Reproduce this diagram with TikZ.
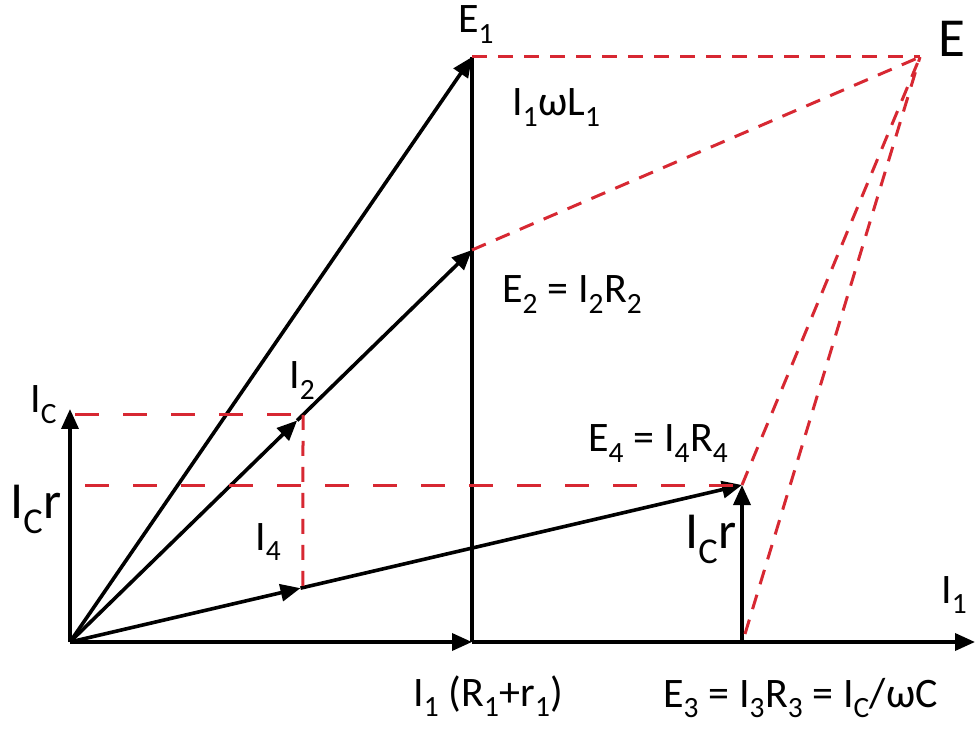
\documentclass[tikz,border=0pt]{standalone}
\usepackage{fontspec}
\setmainfont{Carlito}
\usetikzlibrary{arrows.meta,calc}
\definecolor{dred}{RGB}{215,40,50}
\newcommand\lo[1]{\textsubscript{#1}}
\begin{document}
\begin{tikzpicture}[x=1pt,y=-1pt,
 vec/.style={line width=3.6pt,-{Triangle[length=20pt,width=17pt]}},
 bline/.style={line width=3.6pt},
 rdash/.style={dred,line width=3pt,dash pattern=on 24pt off 24pt},
 rdash2/.style={dred,line width=3pt,dash pattern=on 15pt off 11pt},
 lbl/.style={anchor=base west,inner sep=0pt,font=\fontsize{42}{50}\selectfont},
 big/.style={lbl,font=\fontsize{52}{60}\selectfont}]
\useasboundingbox (0,0) rectangle (978,751);
\coordinate (O) at (70,642);
\coordinate (Xend) at (975,642);
\coordinate (Ic) at (70,409);
\coordinate (E1) at (472,57);
\coordinate (E1f) at (472,642);
\coordinate (E2) at (472,250);
\coordinate (E4) at (742,485);
\coordinate (E3) at (742,642);
\coordinate (E3d) at (745,634);
\coordinate (E) at (920,57);
\coordinate (P2) at ($(O)!0.5796!(E2)$);
\coordinate (P4) at ($(O)!0.3467!(E4)$);
\coordinate (M2) at ($(O)!0.565!(E2)$);
\coordinate (M4) at ($(O)!0.343!(E4)$);
\coordinate (H2) at ($(P2 -| O)+(5,0)$);
\coordinate (H4) at ($(E4 -| O)+(15,0)$);
% black vectors
\draw[vec] (O) -- (E1f);
\draw[vec] (E1f) -- (Xend);
\draw[bline] (E1f) -- (E1);
\draw[vec] (O) -- (E1);
\draw[vec] (O) -- (M2);
\draw[vec] (M2) -- (E2);
\draw[vec] (O) -- (M4);
\draw[vec] (M4) -- (E4);
\draw[vec] (O) -- (Ic);
\draw[vec] (E3) -- (E4);
% red dashed
\draw[rdash] (H2) -- (P2);
\draw[rdash2] (P2) -- (P4);
\draw[rdash] (H4) -- (E4);
\draw[rdash2] (E1) -- (E);
\draw[rdash2] (E2) -- (E);
\draw[rdash2] (E4) -- (E);
\draw[rdash2] (E3d) -- (E);
% labels
\node[lbl] (lE1) at (458,33) {E\lo{1}};
\node[lbl] (lL1) at (512,116) {I\lo{1}ωL\lo{1}};
\node[lbl] (lE2) at (502,303) {E\lo{2} = I\lo{2}R\lo{2}};
\node[lbl] (lI2) at (289,389) {I\lo{2}};
\node[lbl] (lIC) at (30,413) {I\lo{C}};
\node[big] (lICr) at (10,518) {I\lo{C}r};
\node[lbl] (lI4) at (255,550) {I\lo{4}};
\node[lbl] (lE4) at (588,452) {E\lo{4} = I\lo{4}R\lo{4}};
\node[big] (lICr2) at (685,548) {I\lo{C}r};
\node[lbl] (lI1) at (941,603) {I\lo{1}};
\node[lbl] (lR1) at (413,706) {I\lo{1} (R\lo{1}+r\lo{1})};
\node[lbl] (lE3) at (663,707) {E\lo{3} = I\lo{3}R\lo{3} = I\lo{C}/ωC};
\node[lbl,font=\fontsize{55}{64}\selectfont] (lE) at (938,57) {E};
\end{tikzpicture}
\end{document}
